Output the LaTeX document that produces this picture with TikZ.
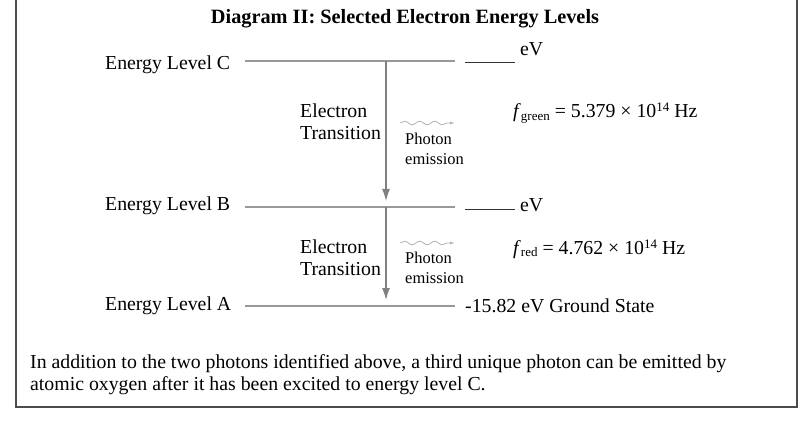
\documentclass[tikz,border=0pt]{standalone}
\usepackage{fontspec}
\setmainfont{Liberation Serif}
\usetikzlibrary{positioning, decorations.pathmorphing, arrows.meta}

\begin{document}
\begin{tikzpicture}[x=1pt,y=-1pt,>=Latex,
  lvl/.style={draw=gray!80, line width=1.6pt},
  trans/.style={draw=gray, line width=1.2pt, shorten >=6pt, -{Latex[length=12pt,width=8pt]}},
  wave/.style={draw=gray!60, line width=0.8pt, decorate,
    decoration={snake, amplitude=1.8pt, segment length=15pt, post length=6pt}, -{Latex[length=5pt,width=3pt]}},
  lbl/.style={font=\fontsize{19.8}{22}\selectfont, inner sep=0pt, anchor=west},
  small/.style={font=\fontsize{16.5}{20}\selectfont, inner sep=0pt, align=left, anchor=west}]
\useasboundingbox (0,0) rectangle (803,422);
% frame
\draw[line width=1.5pt, black!70] (16,0) -- (16,407) -- (797,407) -- (797,0);
\node (title) at (405,19) {\fontsize{20.3}{24}\selectfont\bfseries Diagram II: Selected Electron Energy Levels};
% levels
\coordinate (cW) at (245,61); \coordinate (cE) at (455,61);
\coordinate (bW) at (245,207); \coordinate (bE) at (455,207);
\coordinate (aW) at (245,306); \coordinate (aE) at (455,306);
\draw[lvl] (cW) -- (cE);
\draw[lvl] (bW) -- (bE);
\draw[lvl] (aW) -- (aE);
\node[lbl] (lvlC) at (105,65) {Energy Level C};
\node[lbl] (lvlB) at (105,206) {Energy Level B};
\node[lbl] (lvlA) at (105,306) {Energy Level A};
% blanks
\coordinate (cb1) at (465,62); \coordinate (cb2) at (515,62);
\coordinate (bb1) at (465,209); \coordinate (bb2) at (515,209);
\draw[black!80, line width=0.9pt] (cb1) -- (cb2);
\draw[black!80, line width=0.9pt] (bb1) -- (bb2);
\node[lbl] (evC) at (520,49) {eV};
\node[lbl] (evB) at (520,205) {eV};
\node[lbl] (ground) at (465,306) {-15.82 eV Ground State};
% transitions
\coordinate (t1) at (386,61); \coordinate (t2) at (386,207);
\coordinate (t3) at (386,207); \coordinate (t4) at (386,306);
\draw[trans] (t1) -- (t2);
\draw[trans] (t3) -- (t4);
\node[lbl, align=left] (etC) at (300,122) {Electron\\Transition};
\node[lbl, align=left] (etB) at (300,258) {Electron\\Transition};
\node[small] (phC) at (405,149) {Photon\\emission};
\node[small] (phB) at (405,268) {Photon\\emission};
\coordinate (w1) at (400,123); \coordinate (w2) at (455,123);
\coordinate (w3) at (400,243); \coordinate (w4) at (455,243);
\draw[wave] (w1) -- (w2);
\draw[wave] (w3) -- (w4);
\node[lbl] (fgreen) at (513,113) {\textit{f}\raisebox{-2.5pt}{\fontsize{13}{14}\selectfont green} = 5.379 × 10\raisebox{6pt}{\fontsize{13}{14}\selectfont 14} Hz};
\node[lbl] (fred) at (513,249) {\textit{f}\raisebox{-2.5pt}{\fontsize{13}{14}\selectfont red} = 4.762 × 10\raisebox{6pt}{\fontsize{13}{14}\selectfont 14} Hz};
% note
\node[lbl, align=left] (note) at (30,375) {In addition to the two photons identified above, a third unique photon can be emitted by\\atomic oxygen after it has been excited to energy level C.};
\end{tikzpicture}
\end{document}
